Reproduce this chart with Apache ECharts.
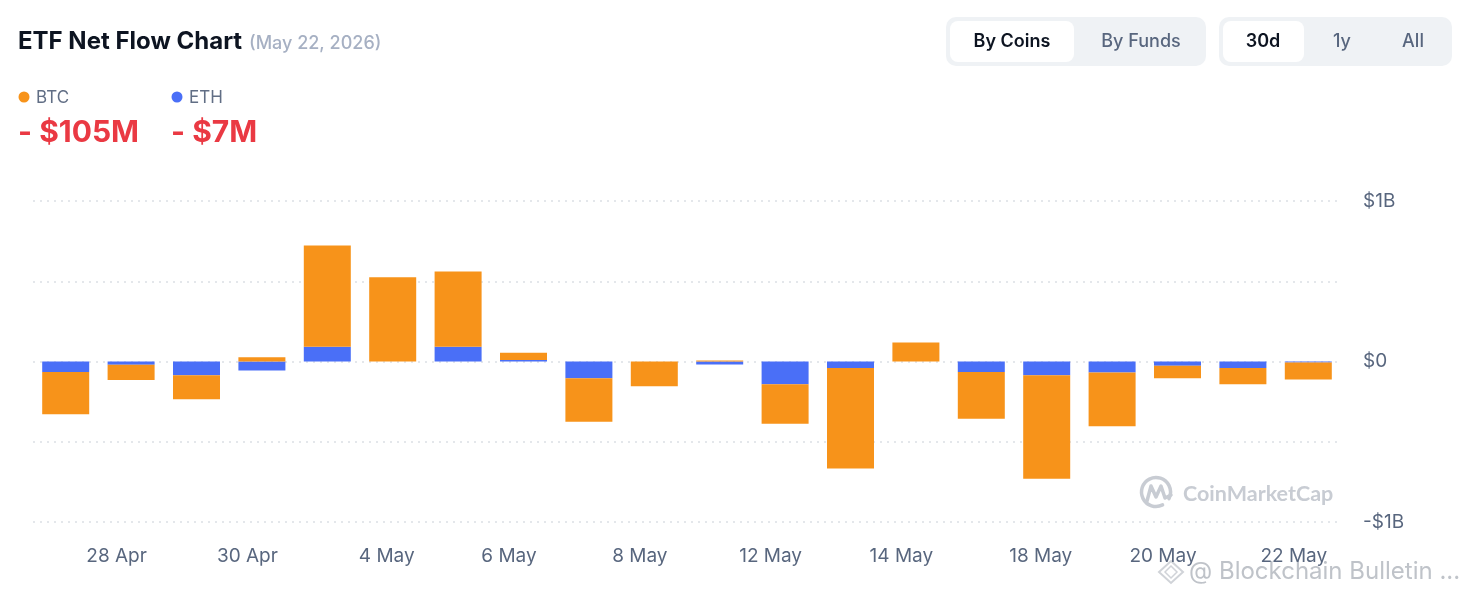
<!DOCTYPE html>
<html>
<head>
<meta charset="utf-8">
<title>ETF Net Flow Chart</title>
<script src="https://cdn.jsdelivr.net/npm/echarts@6/dist/echarts.min.js"></script>
<style>
  html, body { margin: 0; padding: 0; background: #fff; }
  #main { width: 1464px; height: 595px; }
</style>
</head>
<body>
<div id="main"></div>
<script>
// trading days shown on the 30d view
const dates = ['27 Apr', '28 Apr', '29 Apr', '30 Apr', '1 May', '4 May', '5 May', '6 May', '7 May', '8 May',
  '11 May', '12 May', '13 May', '14 May', '15 May', '18 May', '19 May', '20 May', '21 May', '22 May']

// net flows in $M
const ethFlow = [-66, -21, -85, -56, 92, 0, 92, 10, -104, 0, -19, -142, -40, 0, -66, -85, -69, -27, -40, -7]
const btcFlow = [-262, -94, -150, 27, 631, 525, 469, 44, -271, -154, 6, -246, -627, 119, -290, -646, -335, -77, -102, -105]

// y axis tick labels ($M -> text), the half steps stay blank
const yTickLabels = { '1000': '$1B', '0': '$0', '-1000': '-$1B' }

const BTC_COLOR = '#F7931A'
const ETH_COLOR = '#4A6FF7'
const FONT = 'Inter, "Noto Sans", sans-serif'

function latest(arr) {
  const v = arr[arr.length - 1]
  return (v < 0 ? '- $' : '+ $') + Math.abs(v) + 'M'
}

// labels right after a weekend sit a bit closer to their bar
function afterWeekend(i) {
  if (i === 0) return false
  const d = parseInt(dates[i], 10), p = parseInt(dates[i - 1], 10)
  return d > p && d - p > 1
}

const chart = echarts.init(document.getElementById('main'), null, { renderer: 'canvas' })

chart.setOption({
  animation: false,
  backgroundColor: '#fff',
  grid: { left: 33, right: 123, top: 201, bottom: 73 },
  xAxis: {
    type: 'category',
    data: dates,
    axisLine: { show: false },
    axisTick: { show: false },
    axisLabel: {
      interval: (i) => i % 2 === 1,
      color: '#58667E',
      fontFamily: FONT,
      fontSize: 19,
      margin: 25,
      formatter: (v, i) => (afterWeekend(i) ? '{w|' : '{d|') + v + '}',
      rich: {
        d: { color: '#58667E', fontFamily: FONT, fontSize: 19, padding: [0, 29, 0, 0] },
        w: { color: '#58667E', fontFamily: FONT, fontSize: 19, padding: [0, 12, 0, 0] }
      }
    }
  },
  yAxis: {
    type: 'value',
    position: 'right',
    min: -1000,
    max: 1000,
    interval: 500,
    axisLine: { show: false },
    axisTick: { show: false },
    axisLabel: {
      color: '#58667E',
      fontFamily: FONT,
      fontSize: 19,
      margin: 22,
      formatter: (v) => yTickLabels[String(v)] || ''
    },
    splitLine: {
      lineStyle: { color: '#DCDFE5', width: 1.5, type: [2, 5] }
    }
  },
  series: [
    {
      name: 'ETH',
      type: 'bar',
      stack: 'flow',
      barWidth: 47,
      data: ethFlow,
      itemStyle: { color: ETH_COLOR }
    },
    {
      name: 'BTC',
      type: 'bar',
      stack: 'flow',
      barWidth: 47,
      data: btcFlow,
      itemStyle: { color: BTC_COLOR }
    }
  ],
  graphic: [
    // header
    { type: 'text', x: 18, y: 42, style: { text: 'ETF Net Flow Chart', font: 'bold 24px ' + FONT, fill: '#0D1421', verticalAlign: 'middle' } },
    { type: 'text', x: 249, y: 44, style: { text: '(May 22, 2026)', font: '500 18px ' + FONT, fill: '#A6B0C3', verticalAlign: 'middle' } },

    // legend + latest values
    { type: 'circle', shape: { cx: 24, cy: 97, r: 5.5 }, style: { fill: BTC_COLOR } },
    { type: 'text', x: 36, y: 98, style: { text: 'BTC', font: '17px ' + FONT, fill: '#616E85', verticalAlign: 'middle' } },
    { type: 'circle', shape: { cx: 177, cy: 97, r: 5.5 }, style: { fill: ETH_COLOR } },
    { type: 'text', x: 189, y: 98, style: { text: 'ETH', font: '17px ' + FONT, fill: '#616E85', verticalAlign: 'middle' } },
    { type: 'text', x: 18, y: 133, style: { text: latest(btcFlow), font: 'bold 30px ' + FONT, fill: '#EA3943', verticalAlign: 'middle' } },
    { type: 'text', x: 171, y: 133, style: { text: latest(ethFlow), font: 'bold 30px ' + FONT, fill: '#EA3943', verticalAlign: 'middle' } },

    // toggle groups
    { type: 'rect', shape: { x: 946, y: 17, width: 260, height: 49, r: 10 }, style: { fill: '#EFF2F5' } },
    { type: 'rect', shape: { x: 950, y: 21, width: 124, height: 41, r: 8 }, style: { fill: '#fff' } },
    { type: 'text', x: 1012, y: 42, style: { text: 'By Coins', font: '600 18px ' + FONT, fill: '#0D1421', align: 'center', verticalAlign: 'middle' } },
    { type: 'text', x: 1141, y: 42, style: { text: 'By Funds', font: '500 18px ' + FONT, fill: '#58667E', align: 'center', verticalAlign: 'middle' } },
    { type: 'rect', shape: { x: 1219, y: 17, width: 233, height: 49, r: 10 }, style: { fill: '#EFF2F5' } },
    { type: 'rect', shape: { x: 1223, y: 21, width: 81, height: 41, r: 8 }, style: { fill: '#fff' } },
    { type: 'text', x: 1263, y: 42, style: { text: '30d', font: '600 18px ' + FONT, fill: '#0D1421', align: 'center', verticalAlign: 'middle' } },
    { type: 'text', x: 1342, y: 42, style: { text: '1y', font: '500 18px ' + FONT, fill: '#58667E', align: 'center', verticalAlign: 'middle' } },
    { type: 'text', x: 1413, y: 42, style: { text: 'All', font: '500 18px ' + FONT, fill: '#58667E', align: 'center', verticalAlign: 'middle' } },

    // CoinMarketCap watermark
    {
      type: 'group', z: 50, children: [
        { type: 'arc', shape: { cx: 1156, cy: 492, r: 14.5, startAngle: Math.PI * 0.35, endAngle: Math.PI * 2.15 }, style: { stroke: '#C8CCD3', lineWidth: 3.5, fill: null, lineCap: 'round' } },
        { type: 'polyline', shape: { points: [[1147, 501], [1151, 486], [1156, 497], [1161, 486], [1165, 498], [1171, 495]] }, style: { stroke: '#C8CCD3', lineWidth: 3.5, fill: null, lineJoin: 'round', lineCap: 'round' } },
        { type: 'text', x: 1183, y: 494, style: { text: 'CoinMarketCap', font: 'bold 21.5px Lato, ' + FONT, fill: '#C8CCD3', verticalAlign: 'middle' } }
      ]
    },
    // repost watermark
    {
      type: 'group', z: 60, children: [
        { type: 'polygon', shape: { points: [[1171, 561], [1183, 572], [1171, 583], [1159, 572]] }, style: { fill: null, stroke: '#D0D3D8', lineWidth: 2 } },
        { type: 'polygon', shape: { points: [[1171, 566], [1177, 572], [1171, 578], [1165, 572]] }, style: { fill: null, stroke: '#D0D3D8', lineWidth: 1.5 } },
        { type: 'text', x: 1189, y: 572, style: { text: '@ Blockchain Bulletin ...', font: '24px ' + FONT, fill: '#BFC3C9', stroke: 'rgba(255,255,255,0.85)', lineWidth: 2, verticalAlign: 'middle' } }
      ]
    }
  ]
})
</script>
</body>
</html>
